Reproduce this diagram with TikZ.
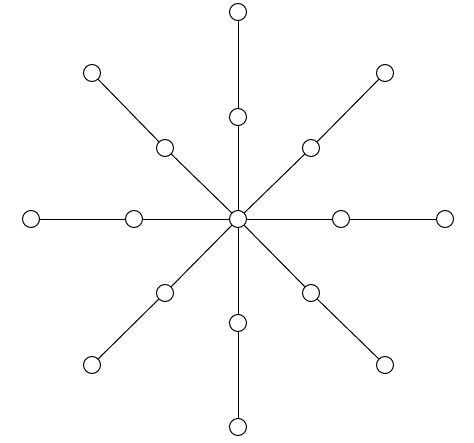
\documentclass[tikz,border=0pt]{standalone}
\begin{document}
\begin{tikzpicture}[x=1pt,y=-1pt,
  dot/.style={circle,draw,fill=white,line width=1pt,minimum size=17pt,inner sep=0pt},
  edge/.style={line width=1pt}]
\useasboundingbox (0,0) rectangle (474,442);
\node[dot] (c) at (238,219) {};
\node[dot] (n1) at (238,117) {};
\node[dot] (n2) at (238,12) {};
\node[dot] (s1) at (238,323) {};
\node[dot] (s2) at (238,427) {};
\node[dot] (w1) at (134,219) {};
\node[dot] (w2) at (31,219) {};
\node[dot] (e1) at (341,219) {};
\node[dot] (e2) at (445,219) {};
\node[dot] (nw1) at (165,148) {};
\node[dot] (nw2) at (92,73) {};
\node[dot] (ne1) at (311,148) {};
\node[dot] (ne2) at (385,73) {};
\node[dot] (sw1) at (165,293) {};
\node[dot] (sw2) at (92,365) {};
\node[dot] (se1) at (311,293) {};
\node[dot] (se2) at (385,365) {};
\foreach \a in {n,s,w,e,nw,ne,sw,se}{
  \draw[edge] (c) -- (\a1);
  \draw[edge] (\a1) -- (\a2);
}
\end{tikzpicture}
\end{document}
